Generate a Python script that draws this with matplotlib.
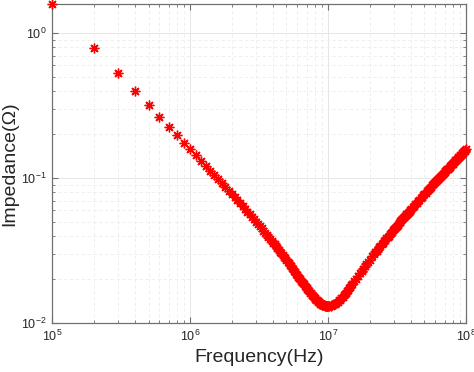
import numpy as np
import matplotlib
matplotlib.use('Agg')
import matplotlib.pyplot as plt
from matplotlib.ticker import LogLocator, NullFormatter

plt.rcParams['font.family'] = ['Liberation Sans', 'DejaVu Sans']
plt.rcParams['mathtext.default'] = 'regular'

# frequency in MHz, impedance in ohm
freq_low = [0.1, 0.2, 0.3, 0.4, 0.5, 0.6, 0.7, 0.8, 0.9, 1.0,
            1.1, 1.2, 1.3, 1.4, 1.5, 1.6, 1.7, 1.8, 1.9, 2.0,
            2.1, 2.2, 2.3, 2.4, 2.5, 2.6, 2.7, 2.8, 2.9, 3.0,
            3.1, 3.2, 3.3, 3.4, 3.5, 3.6, 3.7, 3.8, 3.9, 4.0,
            4.1, 4.2, 4.3, 4.4, 4.5, 4.6, 4.7, 4.8, 4.9, 5.0,
            5.1, 5.2, 5.3, 5.4, 5.5, 5.6, 5.7, 5.8, 5.9, 6.0,
            6.1, 6.2, 6.3, 6.4, 6.5, 6.6, 6.7, 6.8, 6.9, 7.0,
            7.1, 7.2, 7.3, 7.4, 7.5, 7.6, 7.7, 7.8, 7.9, 8.0,
            8.1, 8.2, 8.3, 8.4, 8.5, 8.6, 8.7, 8.8, 8.9, 9.0,
            9.1, 9.2, 9.3, 9.4, 9.5, 9.6, 9.7, 9.8, 9.9, 10.0]
z_low = [1.591, 0.795, 0.530, 0.397, 0.318, 0.264, 0.226, 0.198, 0.175, 0.158,
         0.1435, 0.1314, 0.1211, 0.1122, 0.1045, 0.0978, 0.0918, 0.0865, 0.0818, 0.0775,
         0.0736, 0.0701, 0.0668, 0.0638, 0.0611, 0.0585, 0.0562, 0.0540, 0.0519, 0.0500,
         0.0482, 0.0465, 0.0449, 0.0434, 0.0420, 0.0406, 0.0393, 0.0381, 0.0370, 0.0359,
         0.0348, 0.0338, 0.0329, 0.0319, 0.0311, 0.0302, 0.0294, 0.0286, 0.0279, 0.0272,
         0.0265, 0.0258, 0.0252, 0.0246, 0.0240, 0.0235, 0.0229, 0.0224, 0.0219, 0.0214,
         0.0209, 0.0205, 0.0200, 0.0196, 0.0192, 0.0188, 0.0185, 0.0181, 0.0178, 0.0174,
         0.0171, 0.0168, 0.0165, 0.0162, 0.0160, 0.0157, 0.0155, 0.0153, 0.0151, 0.0148,
         0.0147, 0.0145, 0.0143, 0.0142, 0.0140, 0.0139, 0.0137, 0.0136, 0.0135, 0.0134,
         0.0133, 0.0133, 0.0132, 0.0132, 0.0131, 0.0131, 0.0130, 0.0130, 0.0130, 0.0130]

freq_high = [10.25, 10.5, 10.75, 11.0, 11.25, 11.5, 11.75, 12.0, 12.25, 12.5,
             12.75, 13.0, 13.25, 13.5, 13.75, 14.0, 14.25, 14.5, 14.75, 15.0,
             15.5, 16.0, 16.5, 17.0, 17.5, 18.0, 18.5, 19.0, 19.5, 20.0,
             21, 22, 23, 24, 25, 26, 27, 28, 29, 30,
             31, 32, 33, 34, 35, 36, 37, 38, 39, 40,
             42, 44, 46, 48, 50, 52, 54, 56, 58, 60,
             62, 64, 66, 68, 70, 72, 74, 76, 78, 80,
             82, 84, 86, 88, 90, 92, 94, 96, 98, 100]
z_high = [0.0130, 0.0131, 0.0132, 0.0134, 0.0135, 0.0137, 0.0140, 0.0143, 0.0145, 0.0148,
          0.0152, 0.0155, 0.0159, 0.0162, 0.0166, 0.0170, 0.0174, 0.0178, 0.0182, 0.0186,
          0.0194, 0.0202, 0.0211, 0.0220, 0.0228, 0.0237, 0.0246, 0.0254, 0.0263, 0.0272,
          0.0289, 0.0307, 0.0324, 0.0341, 0.0359, 0.0376, 0.0393, 0.0410, 0.0427, 0.0444,
          0.0461, 0.0478, 0.0494, 0.0511, 0.0528, 0.0545, 0.0561, 0.0578, 0.0594, 0.0611,
          0.0644, 0.0677, 0.0710, 0.0742, 0.0775, 0.0808, 0.0840, 0.0873, 0.0905, 0.0937,
          0.0970, 0.1002, 0.1035, 0.1067, 0.1099, 0.1131, 0.1164, 0.1196, 0.1228, 0.1260,
          0.1292, 0.1324, 0.1356, 0.1389, 0.1421, 0.1453, 0.1485, 0.1517, 0.1549, 0.1581]

# extra readings in between on the rising branch
freq_extra = [21.5, 22.5, 23.5, 24.5, 25.5, 26.5, 27.5, 28.5, 29.5, 30.5,
              31.5, 32.5, 33.5, 34.5, 35.5, 36.5, 37.5, 38.5, 39.5,
              41, 43, 45, 47, 49, 51, 53, 55, 57, 59,
              61, 63, 65, 67, 69, 71, 73, 75, 77, 79,
              81, 83, 85, 87, 89, 91, 93, 95, 97, 99]
z_extra = [0.0298, 0.0315, 0.0333, 0.0350, 0.0367, 0.0384, 0.0401, 0.0418, 0.0435, 0.0452,
           0.0469, 0.0486, 0.0503, 0.0520, 0.0536, 0.0553, 0.0569, 0.0586, 0.0603,
           0.0627, 0.0660, 0.0693, 0.0726, 0.0759, 0.0791, 0.0824, 0.0856, 0.0889, 0.0921,
           0.0954, 0.0986, 0.1018, 0.1051, 0.1083, 0.1115, 0.1147, 0.1180, 0.1212, 0.1244,
           0.1276, 0.1308, 0.1340, 0.1373, 0.1405, 0.1437, 0.1469, 0.1501, 0.1533, 0.1565]

xtick_vals = [1e5, 1e6, 1e7, 1e8]
xtick_labels = ['$10^{5}$', '$10^{6}$', '$10^{7}$', '$10^{8}$']
ytick_vals = [1e-2, 1e-1, 1e0]
ytick_labels = ['$10^{-2}$', '$10^{-1}$', '$10^{0}$']

freq = np.array(freq_low + freq_high + freq_extra) * 1e6
imp = np.array(z_low + z_high + z_extra)

fig = plt.figure(figsize=(4.74, 3.72), dpi=100)
ax = fig.add_axes([0.110, 0.132, 0.873, 0.857])

# matlab-style '*' marker (plus + cross)
ax.loglog(freq, imp, linestyle='none', marker=(8, 2, 0), markersize=7,
          markeredgewidth=1.0, color='red', markeredgecolor='red', clip_on=False, zorder=3)

ax.set_xlim(1e5, 1e8)
ax.set_ylim(1e-2, 1.59)

ax.set_xticks(xtick_vals)
ax.set_xticklabels(xtick_labels)
ax.set_yticks(ytick_vals)
ax.set_yticklabels(ytick_labels)
ax.xaxis.set_minor_locator(LogLocator(base=10, subs=np.arange(2, 10)))
ax.yaxis.set_minor_locator(LogLocator(base=10, subs=np.arange(2, 10)))
ax.xaxis.set_minor_formatter(NullFormatter())
ax.yaxis.set_minor_formatter(NullFormatter())

axcol = '#707070'
for s in ax.spines.values():
    s.set_color(axcol)
    s.set_linewidth(0.9)
ax.tick_params(which='both', direction='in', top=True, right=True, colors=axcol,
               labelcolor='#262626', labelsize=9)
ax.tick_params(which='major', length=4, width=0.8, pad=4)
ax.tick_params(which='minor', length=2.2, width=0.6)

ax.grid(which='major', color='#e6e6e6', linewidth=0.7, linestyle='-')
ax.grid(which='minor', color='#ececec', linewidth=0.6, linestyle=(0, (4, 3)))
ax.set_axisbelow(True)

ax.set_xlabel('Frequency(Hz)', fontsize=14, color='#262626', labelpad=4)
ax.set_ylabel('Impedance(\u03a9)', fontsize=14, color='#262626', labelpad=2)

fig.savefig('out.png', dpi=100)
